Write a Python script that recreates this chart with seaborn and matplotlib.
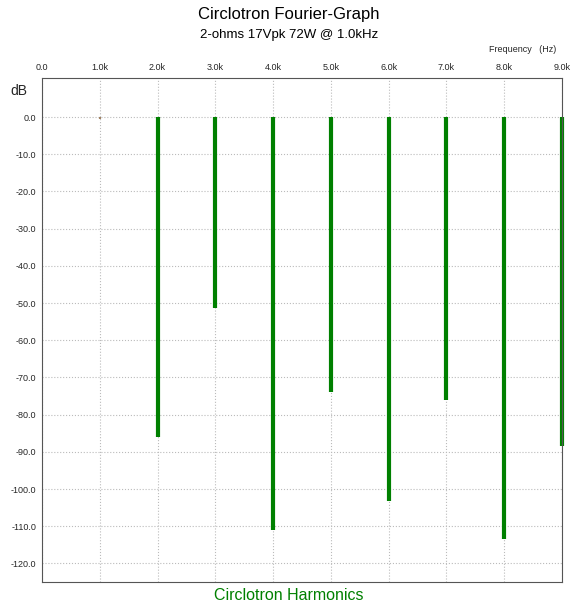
import matplotlib
matplotlib.use("Agg")
import matplotlib.pyplot as plt
import seaborn as sns

# harmonic frequencies (Hz) and levels (dB)
freqs = [1000, 2000, 3000, 4000, 5000, 6000, 7000, 8000, 9000]
levels = [0.0, -86.0, -51.3, -111.0, -73.9, -103.2, -76.1, -113.5, -88.5]
x_ticks = [0, 1000, 2000, 3000, 4000, 5000, 6000, 7000, 8000, 9000]
x_labels = ["0.0", "1.0k", "2.0k", "3.0k", "4.0k", "5.0k", "6.0k", "7.0k", "8.0k", "9.0k"]
y_ticks = list(range(0, -130, -10))

sns.set_style("white")
plt.rcParams["font.family"] = ["Liberation Sans", "DejaVu Sans"]

fig = plt.figure(figsize=(5.78, 6.07), dpi=100)
ax = fig.add_axes([42 / 578, 25 / 607, 520 / 578, 504 / 607])

ax.vlines(freqs[1:], levels[1:], 0, color="#008000", lw=3.0, clip_on=False)
ax.vlines(freqs[0], -0.6, 0, color="#a08060", lw=1.5)

ax.set_xlim(0, 9000)
ax.set_ylim(-125, 10.5)
ax.set_xticks(x_ticks)
ax.set_xticklabels(x_labels, fontsize=6.5)
ax.set_yticks(y_ticks)
ax.set_yticklabels([f"{v:.1f}" for v in y_ticks], fontsize=6.5)
ax.xaxis.tick_top()
ax.tick_params(length=0, pad=4)
ax.grid(True, color="#bbbbbb", linestyle=":", lw=0.8)
for s in ax.spines.values():
    s.set_color("#555555")
    s.set_linewidth(0.8)

fig.text(0.5, 1 - 15 / 607, "Circlotron Fourier-Graph", ha="center", va="center", fontsize=12, color="black")
fig.text(0.5, 1 - 35 / 607, "2-ohms 17Vpk 72W @ 1.0kHz", ha="center", va="center", fontsize=9.5, color="black")
fig.text(556 / 578, 1 - 49 / 607, "Frequency   (Hz)", ha="right", va="center", fontsize=6.5)
fig.text(10 / 578, 1 - 91 / 607, "dB", ha="left", va="center", fontsize=10)
fig.text(0.5, 1 - 595 / 607, "Circlotron Harmonics", ha="center", va="center", fontsize=11.5, color="#008000")

fig.savefig("out.png", dpi=100)
